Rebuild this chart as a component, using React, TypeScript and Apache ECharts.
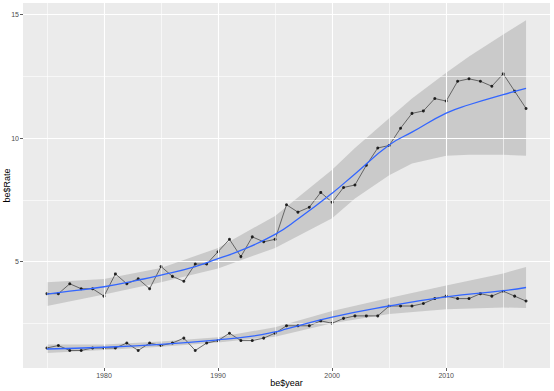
import React, { useEffect, useRef } from "react";
import * as echarts from "echarts";

const years = [
  1975, 1976, 1977, 1978, 1979, 1980, 1981, 1982, 1983, 1984, 1985, 1986, 1987, 1988, 1989,
  1990, 1991, 1992, 1993, 1994, 1995, 1996, 1997, 1998, 1999, 2000, 2001, 2002, 2003, 2004,
  2005, 2006, 2007, 2008, 2009, 2010, 2011, 2012, 2013, 2014, 2015, 2016, 2017,
];
const rateHigh = [
  3.7, 3.7, 4.1, 3.9, 3.9, 3.6, 4.5, 4.1, 4.3, 3.9, 4.8, 4.4, 4.2, 4.9, 4.9,
  5.4, 5.9, 5.2, 6.0, 5.8, 5.9, 7.3, 7.0, 7.2, 7.8, 7.4, 8.0, 8.1, 8.9, 9.6,
  9.7, 10.4, 11.0, 11.1, 11.6, 11.5, 12.3, 12.4, 12.3, 12.1, 12.6, 11.9, 11.2,
];
const rateLow = [
  1.5, 1.6, 1.4, 1.4, 1.5, 1.5, 1.5, 1.7, 1.4, 1.7, 1.6, 1.7, 1.9, 1.4, 1.7,
  1.8, 2.1, 1.8, 1.8, 1.9, 2.1, 2.4, 2.4, 2.4, 2.6, 2.5, 2.7, 2.8, 2.8, 2.8,
  3.2, 3.2, 3.2, 3.3, 3.5, 3.6, 3.5, 3.5, 3.7, 3.6, 3.8, 3.6, 3.4,
];

const smoothHighYears = [1975, 1977, 1980, 1983, 1985, 1988, 1990, 1992, 1995, 1997, 2000, 2002, 2005, 2007, 2010, 2012, 2015, 2017];
const smoothHigh = [3.68, 3.8, 3.98, 4.25, 4.45, 4.8, 5.12, 5.45, 6.1, 6.72, 7.77, 8.55, 9.72, 10.24, 11.01, 11.35, 11.76, 12.01];
const smoothLowYears = [1975, 1980, 1985, 1990, 1993, 1995, 1996, 2000, 2005, 2010, 2015, 2017];
const smoothLow = [1.46, 1.53, 1.65, 1.83, 1.98, 2.15, 2.27, 2.75, 3.2, 3.57, 3.82, 3.95];

const bandHighYears = [1975, 1980, 1985, 1990, 1995, 2000, 2002, 2005, 2007, 2010, 2012, 2015, 2017];
const bandHighLo = [3.2, 3.67, 4.16, 4.72, 5.55, 6.75, 7.55, 8.5, 8.97, 9.28, 9.33, 9.33, 9.28];
const bandHighHi = [4.16, 4.29, 4.74, 5.55, 6.85, 8.72, 9.6, 10.8, 11.6, 12.65, 13.3, 14.19, 14.77];
const bandLowYears = [1975, 1980, 1985, 1990, 1995, 2000, 2005, 2010, 2015, 2017];
const bandLowLo = [1.3, 1.42, 1.55, 1.72, 1.96, 2.5, 2.88, 3.07, 3.14, 3.12];
const bandLowHi = [1.64, 1.64, 1.76, 1.94, 2.34, 3.0, 3.52, 4.03, 4.52, 4.78];

const xTickLabels = [1980, 1990, 2000, 2010];
const xMinorGrid = [1975, 1985, 1995, 2005, 2015];
const yTickLabels = [5, 10, 15];
const yMinorGrid = [2.5, 7.5, 12.5];

const FONT = "'Liberation Sans', Arial, sans-serif";

export default function App() {
  const ref = useRef<HTMLDivElement>(null);
  useEffect(() => {
    if (!ref.current) return;
    const chart = echarts.init(ref.current, null, { renderer: "svg" });
    const pairs = (xs: number[], ys: number[]) => xs.map((x, i) => [x, ys[i]]);
    const gridLines = [
      ...xMinorGrid.map((v) => ({ xAxis: v, lineStyle: { color: "#ffffff", width: 0.6, type: "solid" } })),
      ...yMinorGrid.map((v) => ({ yAxis: v, lineStyle: { color: "#ffffff", width: 0.6, type: "solid" } })),
      ...xTickLabels.map((v) => ({ xAxis: v, lineStyle: { color: "#ffffff", width: 1.1, type: "solid" } })),
      ...yTickLabels.map((v) => ({ yAxis: v, lineStyle: { color: "#ffffff", width: 1.1, type: "solid" } })),
    ];
    const band = (xs: number[], lo: number[], hi: number[]) => ({
      type: "custom",
      z: 2,
      silent: true,
      data: [0],
      renderItem: (_params: any, api: any) => {
        const upper = xs.map((y, i) => api.coord([y, hi[i]]));
        const lower = xs.map((y, i) => api.coord([y, lo[i]])).reverse();
        return {
          type: "polygon",
          shape: { points: upper.concat(lower) },
          style: { fill: "rgba(153,153,153,0.4)", stroke: "none" },
        };
      },
    });
    chart.setOption({
      animation: false,
      textStyle: { fontFamily: FONT },
      grid: {
        left: 23,
        right: 4,
        top: 3,
        bottom: 23,
        show: true,
        backgroundColor: "#EBEBEB",
        borderWidth: 0,
        containLabel: false,
        outerBoundsMode: "none",
      },
      xAxis: {
        type: "value",
        min: 1972.9,
        max: 2019.1,
        name: "be$year",
        nameLocation: "middle",
        nameGap: 10,
        nameMoveOverlap: false,
        nameTextStyle: { color: "#000000", fontSize: 9, fontFamily: FONT },
        axisLine: { show: false },
        axisTick: { show: true, length: 3, lineStyle: { color: "#333333", width: 0.8 }, customValues: xTickLabels },
        axisLabel: {
          color: "#4D4D4D",
          fontSize: 7,
          margin: 4,
          customValues: xTickLabels,
          fontFamily: FONT,
          formatter: (v: number) => String(v),
        },
        splitLine: { show: false },
      },
      yAxis: {
        type: "value",
        min: 0.69,
        max: 15.47,
        name: "be$Rate",
        nameLocation: "middle",
        nameGap: 12,
        nameMoveOverlap: false,
        nameTextStyle: { color: "#000000", fontSize: 9, fontFamily: FONT },
        axisLine: { show: false },
        axisTick: { show: true, length: 3, lineStyle: { color: "#333333", width: 0.8 }, customValues: yTickLabels },
        axisLabel: {
          color: "#4D4D4D",
          fontSize: 7,
          margin: 4,
          customValues: yTickLabels,
          fontFamily: FONT,
          formatter: (v: number) => String(v),
        },
        splitLine: { show: false },
      },
      series: [
        {
          type: "line",
          data: [],
          z: 1,
          silent: true,
          markLine: {
            silent: true,
            symbol: ["none", "none"],
            label: { show: false },
            animation: false,
            data: gridLines,
          },
        },
        band(bandHighYears, bandHighLo, bandHighHi),
        band(bandLowYears, bandLowLo, bandLowHi),
        {
          type: "line",
          data: pairs(years, rateHigh),
          symbol: "none",
          lineStyle: { color: "#4a4a4a", width: 0.8 },
          z: 3,
        },
        {
          type: "line",
          data: pairs(years, rateLow),
          symbol: "none",
          lineStyle: { color: "#4a4a4a", width: 0.8 },
          z: 3,
        },
        {
          type: "scatter",
          data: pairs(years, rateHigh),
          symbolSize: 3,
          itemStyle: { color: "#000000" },
          z: 4,
        },
        {
          type: "scatter",
          data: pairs(years, rateLow),
          symbolSize: 3,
          itemStyle: { color: "#000000" },
          z: 4,
        },
        {
          type: "line",
          data: pairs(smoothHighYears, smoothHigh),
          smooth: true,
          symbol: "none",
          lineStyle: { color: "#3366FF", width: 1.3 },
          z: 5,
        },
        {
          type: "line",
          data: pairs(smoothLowYears, smoothLow),
          smooth: true,
          symbol: "none",
          lineStyle: { color: "#3366FF", width: 1.3 },
          z: 5,
        },
      ],
    });
    return () => chart.dispose();
  }, []);
  return <div ref={ref} style={{ width: 554, height: 391, position: "absolute", left: 0, top: 0 }} />;
}
